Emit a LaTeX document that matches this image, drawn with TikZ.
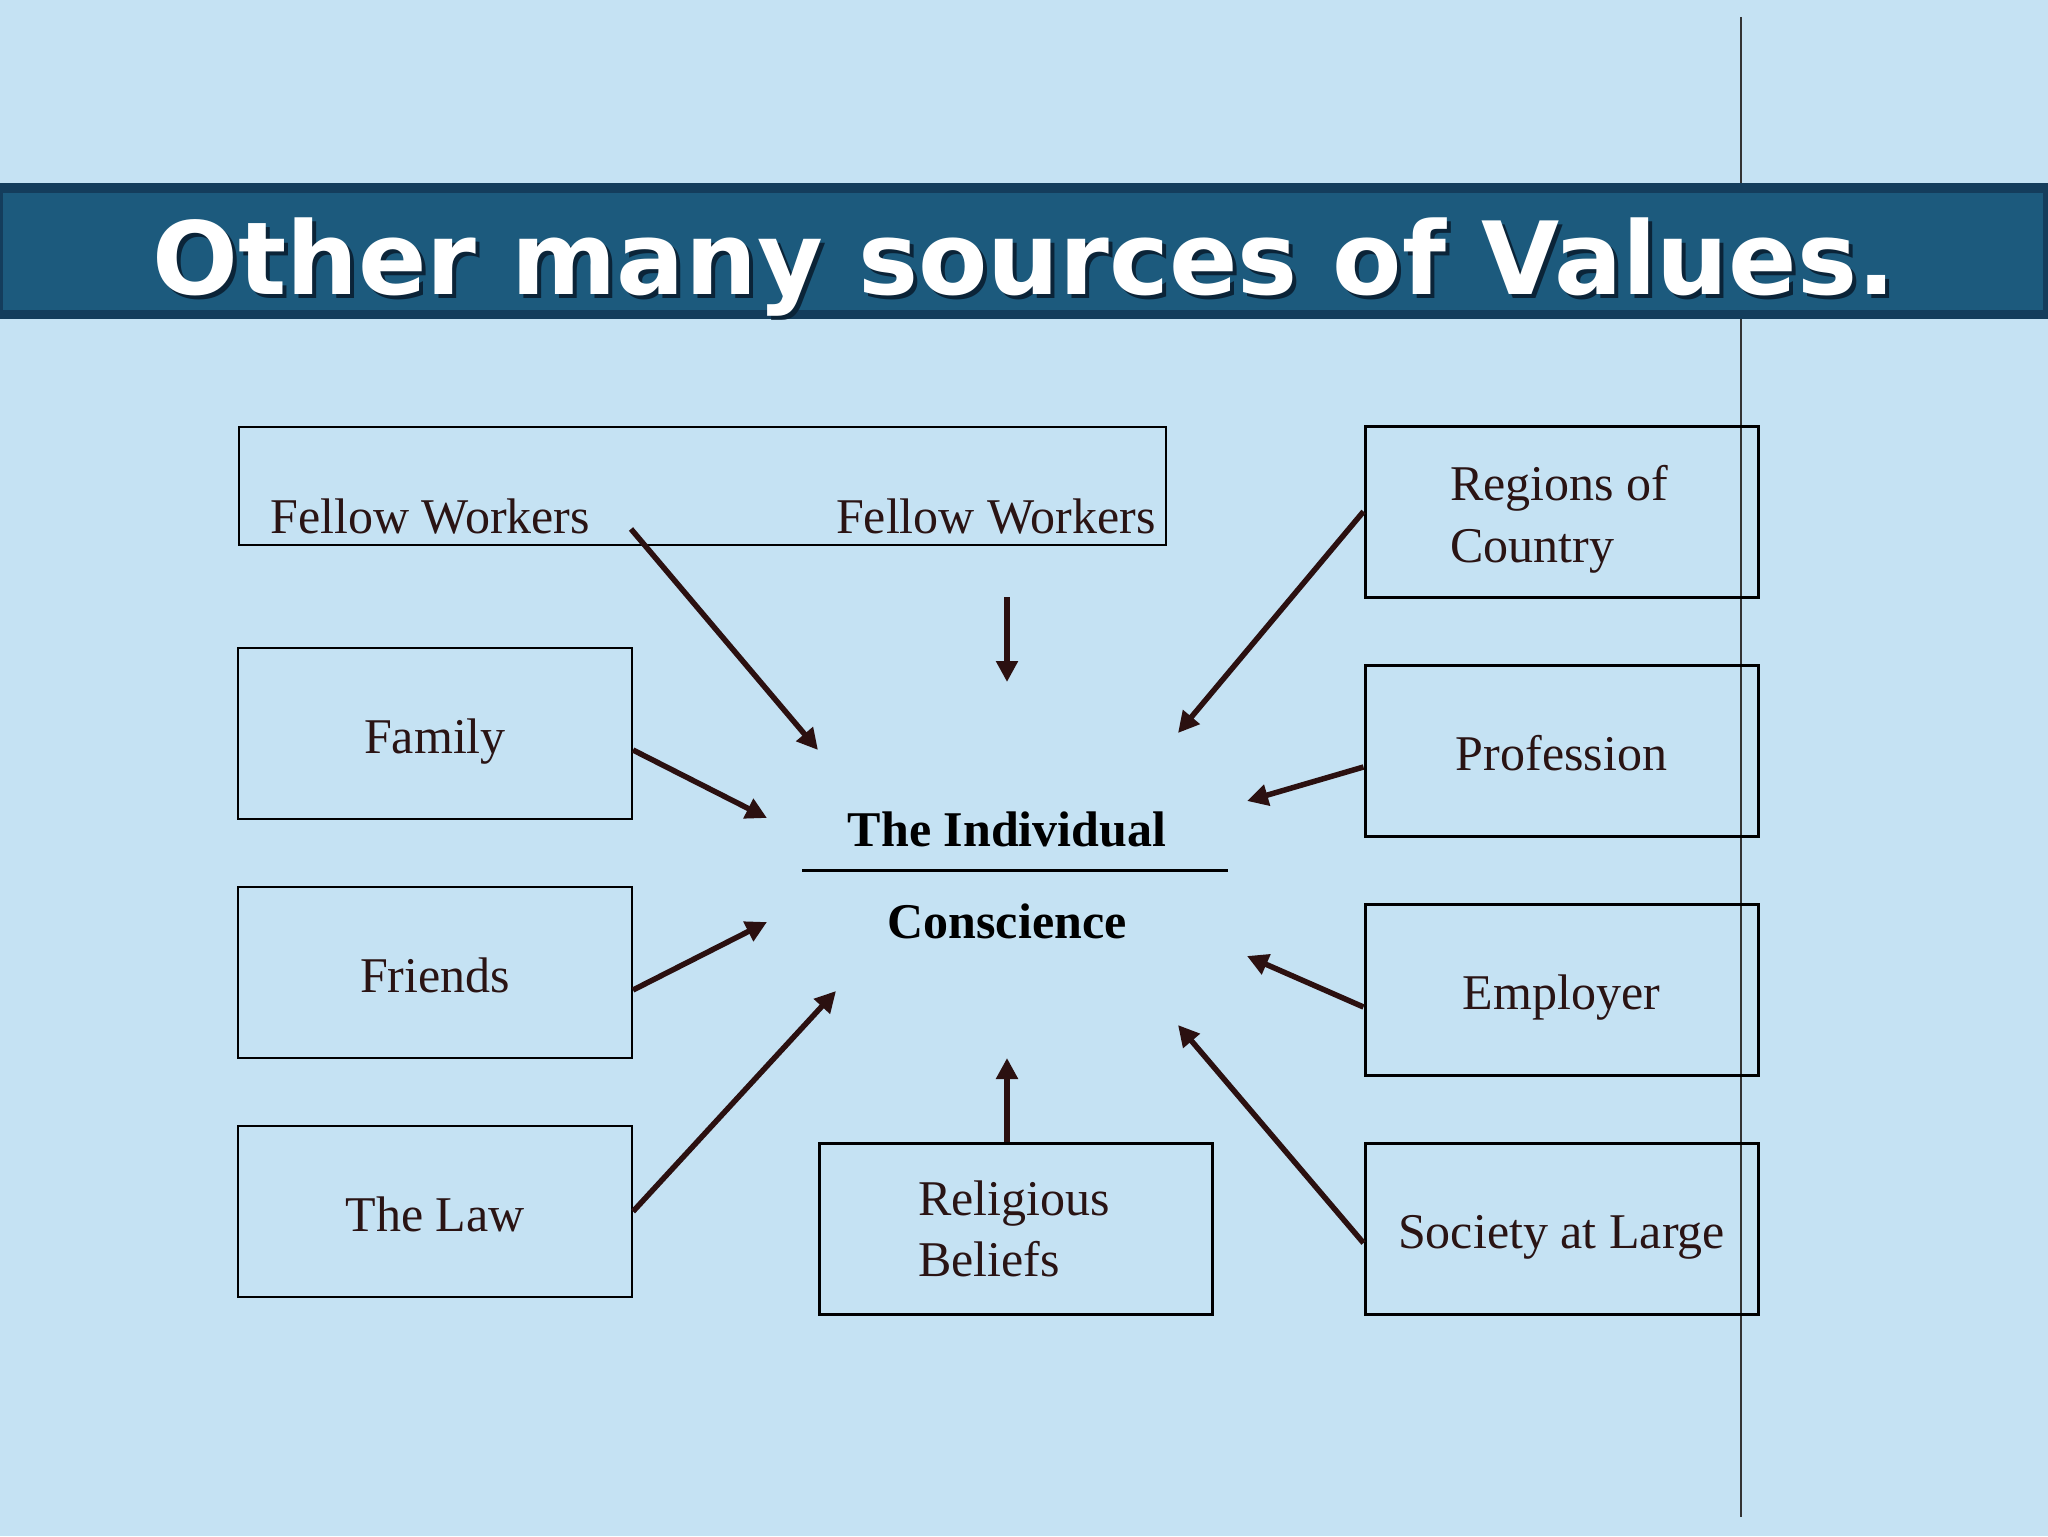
\documentclass[tikz,border=0pt]{standalone}
\usepackage{fontspec}
\setmainfont{Liberation Serif}
\newfontfamily\titlefont{DejaVu Sans}
\usetikzlibrary{arrows.meta,calc}
\definecolor{bgc}{HTML}{C5E2F3}
\definecolor{bannerin}{HTML}{1C5A7D}
\definecolor{bannerout}{HTML}{143D5C}
\definecolor{shadowc}{HTML}{0B2438}
\definecolor{inkc}{HTML}{2A1414}
\definecolor{arrc}{HTML}{2B1010}
\begin{document}
\begin{tikzpicture}[x=0.5pt,y=-0.5pt,
  lbox/.style={draw=black, line width=1pt, inner sep=0pt, minimum width=197pt, minimum height=85.5pt},
  rbox/.style={draw=black, line width=1.5pt, inner sep=0pt, minimum width=196.5pt, minimum height=85.5pt},
  lbl/.style={font=\fontsize{25}{30}\selectfont, text=inkc, inner sep=0pt, anchor=base},
  ctr/.style={font=\bfseries\fontsize{25}{30}\selectfont, text=black, inner sep=0pt, anchor=base},
  ttl/.style={font=\titlefont\bfseries\fontsize{50.5}{60}\selectfont, inner sep=0pt, anchor=base},
  flow/.style={draw=arrc, line width=2.75pt, -{Triangle[length=10.5pt,width=10.5pt]}},
]
\fill[bgc] (0,0) rectangle (2048,1536);
\useasboundingbox (0,0) rectangle (2048,1536);
% thin vertical guide line
\draw[line width=0.75pt, color=black!80] (1741,17) -- (1741,1517);
% title banner
\fill[bannerout] (0,183) rectangle (2048,319);
\fill[bannerin] (3,193) rectangle (2043,310);
\node[ttl, text=shadowc] (titleshadow) at (1028,298) {Other many sources of Values.};
\node[ttl, text=white] (title) at (1024,294) {Other many sources of Values.};
% boxes
\node[draw=black, line width=1pt, inner sep=0pt, minimum width=463.5pt, minimum height=59pt] (fw) at (702.5,486) {};
\node[lbox] (family) at (435,733.5) {};
\node[lbox] (friends) at (435,972.5) {};
\node[lbox] (law) at (435,1211.5) {};
\node[rbox] (rel) at (1015.5,1228.5) {};
\node[rbox] (reg) at (1561.5,511.5) {};
\node[rbox] (prof) at (1561.5,750.5) {};
\node[rbox] (emp) at (1561.5,989.5) {};
\node[rbox] (soc) at (1561.5,1228.5) {};
% box texts
\node[lbl, anchor=base west] (fwt1) at (270,533) {Fellow Workers};
\node[lbl, anchor=base east] (fwt2) at (1156,533) {Fellow Workers};
\node[lbl] (familyt) at (435,753.5) {Family};
\node[lbl] (friendst) at (435,992.5) {Friends};
\node[lbl] (lawt) at (435,1231.5) {The Law};
\node[lbl, anchor=base west] (relt1) at (918,1215) {Religious};
\node[lbl, anchor=base west] (relt2) at (918,1276) {Beliefs};
\node[lbl, anchor=base west] (regt1) at (1450,500) {Regions of};
\node[lbl, anchor=base west] (regt2) at (1450,562) {Country};
\node[lbl] (proft) at (1561.5,770.5) {Profession};
\node[lbl] (empt) at (1561.5,1009.5) {Employer};
\node[lbl] (soct) at (1561.5,1248.5) {Society at Large};
% centre
\node[ctr] (ind) at (1007,846) {The Individual};
\node[ctr] (cons) at (1007,938) {Conscience};
\coordinate (barl) at (802,870);
\coordinate (barr) at (1228,870);
\draw[line width=1.5pt, black] (barl) -- (barr);
% arrow ends
\coordinate (fwa) at (631,529);
\coordinate (fwb) at (1007,597);
\coordinate (t1) at (818,750);
\coordinate (t2) at (1007,682);
\coordinate (t3) at (767,818);
\coordinate (t4) at (767,922);
\coordinate (t5) at (836,991);
\coordinate (t6) at (1007,1058);
\coordinate (t7) at (1178,733);
\coordinate (t8) at (1247,801);
\coordinate (t9) at (1247,956);
\coordinate (t10) at (1178,1025);
% arrows
\draw[flow] (fwa) -- (t1);
\draw[flow] (fwb) -- (t2);
\draw[flow] ([yshift=-8.25pt]family.east) -- (t3);
\draw[flow] ([yshift=-8.75pt]friends.east) -- (t4);
\draw[flow] (law.east) -- (t5);
\draw[flow] ([xshift=-4.25pt]rel.north) -- (t6);
\draw[flow] (reg.west) -- (t7);
\draw[flow] ([yshift=-8.25pt]prof.west) -- (t8);
\draw[flow] ([yshift=-8.75pt]emp.west) -- (t9);
\draw[flow] ([yshift=-7.25pt]soc.west) -- (t10);
\end{tikzpicture}
\end{document}
